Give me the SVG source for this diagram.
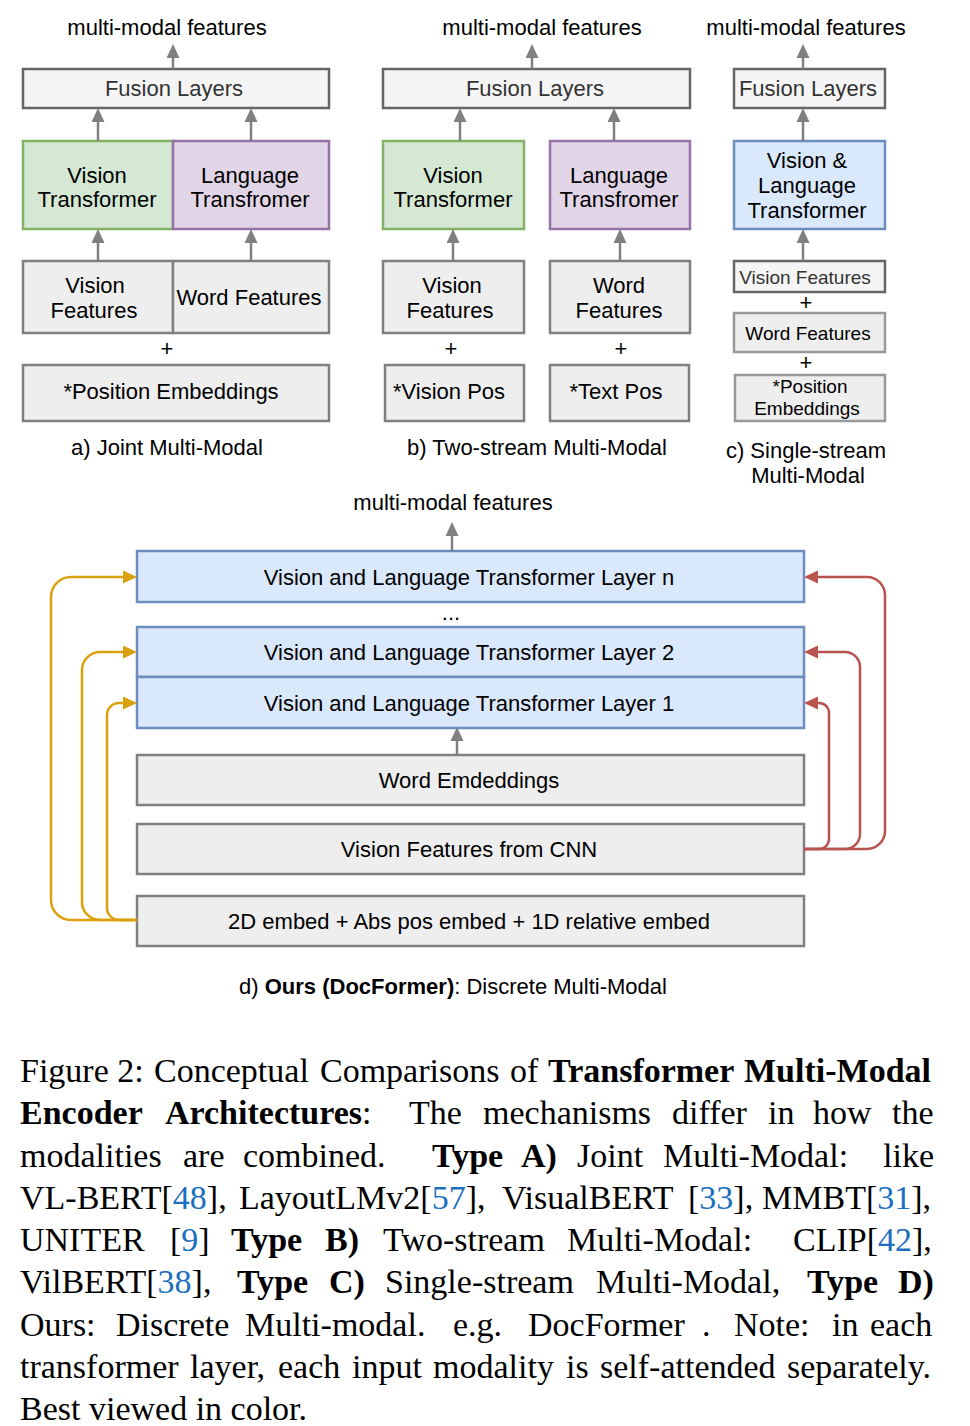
<svg xmlns="http://www.w3.org/2000/svg" width="970" height="1426" viewBox="0 0 970 1426">
<style>
.t{font-family:"Liberation Sans",Arial,sans-serif;font-size:22px;fill:#000;text-anchor:middle}
.s{font-size:19px}
.g{fill:#333}
.fus{fill:#f5f5f5;stroke:#666;stroke-width:2.5}
.feat{fill:#eeeeee;stroke:#808080;stroke-width:2.5}
.vt{fill:#d5e8d4;stroke:#82b366;stroke-width:2.5}
.lt{fill:#e1d5e7;stroke:#9673a6;stroke-width:2.5}
.vl{fill:#dae8fc;stroke:#6c8ebf;stroke-width:2.5}
.ga{fill:none;stroke:#808080;stroke-width:2.5;marker-end:url(#mg)}
.ya{fill:none;stroke:#dba10d;stroke-width:2.5;marker-end:url(#my)}
.ra{fill:none;stroke:#b85450;stroke-width:2.5;marker-end:url(#mr)}
.cap{font-family:"Liberation Serif","Times New Roman",serif;font-size:34px;fill:#000}
.b{font-weight:bold}
.ref{fill:#1a6fbf}
</style>
<defs>
<marker id="mg" markerUnits="userSpaceOnUse" markerWidth="16" markerHeight="14" refX="0" refY="6.5" orient="auto"><path d="M0,0 L14,6.5 L0,13 z" fill="#808080"/></marker>
<marker id="my" markerUnits="userSpaceOnUse" markerWidth="16" markerHeight="14" refX="0" refY="6.5" orient="auto"><path d="M0,0 L14,6.5 L0,13 z" fill="#dba10d"/></marker>
<marker id="mr" markerUnits="userSpaceOnUse" markerWidth="16" markerHeight="14" refX="0" refY="6.5" orient="auto"><path d="M0,0 L14,6.5 L0,13 z" fill="#b85450"/></marker>
</defs>

<!-- Panel a -->
<g id="a-out"><text class="t" x="167" y="35">multi-modal features</text></g>
<g id="a-fusion"><rect class="fus" x="23" y="69" width="306" height="39"/><text class="t g" x="174" y="96">Fusion Layers</text></g>
<g id="a-vt"><rect class="vt" x="23" y="141" width="150" height="88"/><text class="t" x="97" y="183">Vision</text><text class="t" x="97" y="207">Transformer</text></g>
<g id="a-lt"><rect class="lt" x="173" y="141" width="156" height="88"/><text class="t" x="250" y="183">Language</text><text class="t" x="250" y="207">Transfromer</text></g>
<g id="a-vf"><rect class="feat" x="23" y="261" width="150" height="72"/><text class="t" x="95" y="293">Vision</text><text class="t" x="94" y="318">Features</text></g>
<g id="a-wf"><rect class="feat" x="173" y="261" width="156" height="72"/><text class="t" x="249" y="305">Word Features</text></g>
<g id="a-plus"><text class="t" x="167" y="356">+</text></g>
<g id="a-pos"><rect class="feat" x="23" y="365" width="306" height="56"/><text class="t" x="171" y="399">*Position Embeddings</text></g>
<g id="a-cap"><text class="t" x="167" y="455">a) Joint Multi-Modal</text></g>

<!-- Panel b -->
<g id="b-out"><text class="t" x="542" y="35">multi-modal features</text></g>
<g id="b-fusion"><rect class="fus" x="383" y="69" width="307" height="39"/><text class="t g" x="535" y="96">Fusion Layers</text></g>
<g id="b-vt"><rect class="vt" x="383" y="141" width="141" height="88"/><text class="t" x="453" y="183">Vision</text><text class="t" x="453" y="207">Transformer</text></g>
<g id="b-lt"><rect class="lt" x="550" y="141" width="140" height="88"/><text class="t" x="619" y="183">Language</text><text class="t" x="619" y="207">Transfromer</text></g>
<g id="b-vf"><rect class="feat" x="383" y="261" width="141" height="72"/><text class="t" x="452" y="293">Vision</text><text class="t" x="450" y="318">Features</text></g>
<g id="b-wf"><rect class="feat" x="550" y="261" width="140" height="72"/><text class="t" x="619" y="293">Word</text><text class="t" x="619" y="318">Features</text></g>
<g id="b-plus"><text class="t" x="451" y="356">+</text><text class="t" x="621" y="356">+</text></g>
<g id="b-vpos"><rect class="feat" x="385" y="365" width="139" height="56"/><text class="t" x="449" y="399">*Vision Pos</text></g>
<g id="b-tpos"><rect class="feat" x="550" y="365" width="139" height="56"/><text class="t" x="616" y="399">*Text Pos</text></g>
<g id="b-cap"><text class="t" x="537" y="455">b) Two-stream Multi-Modal</text></g>

<!-- Panel c -->
<g id="c-out"><text class="t" x="806" y="35">multi-modal features</text></g>
<g id="c-fusion"><rect class="fus" x="734" y="69" width="151" height="39"/><text class="t g" x="808" y="96">Fusion Layers</text></g>
<g id="c-vlt"><rect class="vl" x="734" y="141" width="151" height="88"/><text class="t" x="807" y="168">Vision &amp;</text><text class="t" x="807" y="193">Language</text><text class="t" x="807" y="218">Transformer</text></g>
<g id="c-vf"><rect class="fus" x="734" y="261" width="151" height="31"/><text class="t s g" x="805" y="284">Vision Features</text></g>
<g id="c-plus1"><text class="t" x="806" y="310">+</text></g>
<g id="c-wf"><rect class="feat" x="734" y="313" width="151" height="39" style="stroke:#999"/><text class="t s" x="808" y="340">Word Features</text></g>
<g id="c-plus2"><text class="t" x="806" y="370">+</text></g>
<g id="c-pos"><rect class="feat" x="735" y="375" width="150" height="46" style="stroke:#999"/><text class="t s" x="810" y="393">*Position</text><text class="t s" x="807" y="415">Embeddings</text></g>
<g id="c-cap"><text class="t" x="806" y="458">c) Single-stream</text><text class="t" x="808" y="483">Multi-Modal</text></g>

<!-- Panel d -->
<g id="d-out"><text class="t" x="453" y="510">multi-modal features</text></g>
<g id="d-ln"><rect class="vl" x="137" y="551" width="667" height="51"/><text class="t" x="469" y="585">Vision and Language Transformer Layer n</text></g>
<g id="d-dots"><text class="t" x="451" y="620">...</text></g>
<g id="d-l2"><rect class="vl" x="137" y="627" width="667" height="50"/><text class="t" x="469" y="660">Vision and Language Transformer Layer 2</text></g>
<g id="d-l1"><rect class="vl" x="137" y="677" width="667" height="51"/><text class="t" x="469" y="711">Vision and Language Transformer Layer 1</text></g>
<g id="d-we"><rect class="feat" x="137" y="755" width="667" height="50"/><text class="t" x="469" y="788">Word Emdeddings</text></g>
<g id="d-vf"><rect class="feat" x="137" y="824" width="667" height="50"/><text class="t" x="469" y="857">Vision Features from CNN</text></g>
<g id="d-emb"><rect class="feat" x="137" y="896" width="667" height="50"/><text class="t" x="469" y="929">2D embed + Abs pos embed + 1D relative embed</text></g>
<g id="d-cap"><text class="t" x="453" y="994">d) <tspan class="b">Ours (DocFormer)</tspan>: Discrete Multi-Modal</text></g>

<!-- Connectors -->
<g id="connectors">
<path class="ga" d="M173,69 V58"/>
<path class="ga" d="M98,141 V122"/>
<path class="ga" d="M251,141 V122"/>
<path class="ga" d="M98,261 V243"/>
<path class="ga" d="M251,261 V243"/>
<path class="ga" d="M532,69 V58"/>
<path class="ga" d="M460,141 V122"/>
<path class="ga" d="M614,141 V122"/>
<path class="ga" d="M453,261 V243"/>
<path class="ga" d="M620,261 V243"/>
<path class="ga" d="M803,69 V58"/>
<path class="ga" d="M803,141 V122"/>
<path class="ga" d="M803,261 V243"/>
<path class="ga" d="M452,551 V536"/>
<path class="ga" d="M457,755 V741"/>
<path class="ya" d="M137,920 H71 A20,20 0 0 1 51,900 V597 A20,20 0 0 1 71,577 H123"/>
<path class="ya" d="M137,920 H100 A18,18 0 0 1 82,902 V670 A18,18 0 0 1 100,652 H123"/>
<path class="ya" d="M137,920 H119 A12,12 0 0 1 107,908 V715 A12,12 0 0 1 119,703 H123"/>
<path class="ra" d="M804,849 H867 A18,18 0 0 0 885,831 V595 A18,18 0 0 0 867,577 H818"/>
<path class="ra" d="M804,849 H845 A15,15 0 0 0 860,834 V667 A15,15 0 0 0 845,652 H818"/>
<path class="ra" d="M804,849 H819 A10,10 0 0 0 829,839 V713 A10,10 0 0 0 819,703 H818"/>
</g>

<!-- Caption -->
<g id="caption">
<text class="cap" y="1082"><tspan x="20">Figure 2:</tspan><tspan x="154">Conceptual</tspan><tspan x="320">Comparisons</tspan><tspan x="510">of</tspan><tspan x="548" class="b">Transformer</tspan><tspan x="744" class="b">Multi-Modal</tspan></text>
<text class="cap" y="1124"><tspan x="20" class="b">Encoder</tspan><tspan x="165" class="b">Architectures</tspan><tspan>:</tspan><tspan x="409">The</tspan><tspan x="483">mechanisms</tspan><tspan x="672">differ</tspan><tspan x="768">in</tspan><tspan x="813">how</tspan><tspan x="892">the</tspan></text>
<text class="cap" y="1166.5"><tspan x="20">modalities</tspan><tspan x="183">are</tspan><tspan x="243">combined.</tspan><tspan x="432" class="b">Type</tspan><tspan x="521" class="b">A)</tspan><tspan x="577">Joint</tspan><tspan x="663">Multi-Modal:</tspan><tspan x="883">like</tspan></text>
<text class="cap" y="1208.7"><tspan x="20">VL-BERT[<tspan class="ref">48</tspan>],</tspan><tspan x="239">LayoutLMv2[<tspan class="ref">57</tspan>],</tspan><tspan x="502">VisualBERT</tspan><tspan x="688">[<tspan class="ref">33</tspan>],</tspan><tspan x="762">MMBT[<tspan class="ref">31</tspan>],</tspan></text>
<text class="cap" y="1251"><tspan x="20">UNITER</tspan><tspan x="170">[<tspan class="ref">9</tspan>]</tspan><tspan x="231" class="b">Type</tspan><tspan x="325" class="b">B)</tspan><tspan x="383">Two-stream</tspan><tspan x="567">Multi-Modal:</tspan><tspan x="793">CLIP[<tspan class="ref">42</tspan>],</tspan></text>
<text class="cap" y="1293.3"><tspan x="20">VilBERT[<tspan class="ref">38</tspan>],</tspan><tspan x="237" class="b">Type</tspan><tspan x="329" class="b">C)</tspan><tspan x="385">Single-stream</tspan><tspan x="596">Multi-Modal,</tspan><tspan x="807" class="b">Type</tspan><tspan x="898" class="b">D)</tspan></text>
<text class="cap" y="1335.6"><tspan x="20">Ours:</tspan><tspan x="116">Discrete</tspan><tspan x="245">Multi-modal.</tspan><tspan x="453">e.g.</tspan><tspan x="528">DocFormer</tspan><tspan x="702">.</tspan><tspan x="734">Note:</tspan><tspan x="832">in</tspan><tspan x="870">each</tspan></text>
<text class="cap" y="1377.9"><tspan x="20">transformer</tspan><tspan x="190">layer,</tspan><tspan x="278">each</tspan><tspan x="352">input</tspan><tspan x="433">modality</tspan><tspan x="566">is</tspan><tspan x="600">self-attended</tspan><tspan x="787">separately.</tspan></text>
<text class="cap" y="1420" x="20">Best viewed in color.</text>
</g>
</svg>
